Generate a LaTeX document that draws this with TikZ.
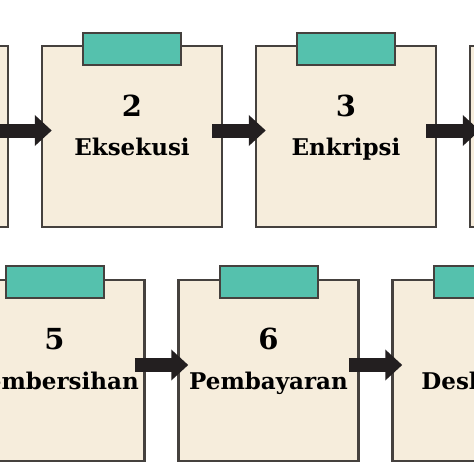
\documentclass[tikz,border=0pt]{standalone}
\usepackage{fontspec}
\newfontfamily\boxfont{DejaVu Serif}
\usetikzlibrary{arrows.meta}
\definecolor{boxfill}{HTML}{F6EDDC}
\definecolor{boxline}{HTML}{45413E}
\definecolor{tabfill}{HTML}{55C1AD}
\definecolor{arrowdark}{HTML}{231F20}
\begin{document}
\begin{tikzpicture}[x=1pt, y=-1pt,
    stepbox/.style={draw=boxline, line width=2.5pt, fill=boxfill,
      minimum width=180pt, minimum height=181pt, inner sep=0pt},
    tabbox/.style={draw=boxline, line width=2pt, fill=tabfill,
      minimum width=98pt, minimum height=32pt, inner sep=0pt},
    numtext/.style={font=\boxfont\bfseries\fontsize{29}{30}\selectfont,
      anchor=base, inner sep=0pt},
    steptext/.style={font=\boxfont\bfseries\fontsize{23}{24}\selectfont,
      anchor=base, inner sep=0pt},
    flow/.style={draw=arrowdark, line width=14pt,
      -{Triangle[width=30pt,length=17pt]}}]
      \useasboundingbox (0,0) rectangle (474,474);
      \clip (0,0) rectangle (474,474);
      % top row
      \node[stepbox] (b1) at (-82,136.5) {};
      \node[stepbox] (b2) at (132,136.5) {};
      \node[stepbox] (b3) at (346,136.5) {};
      \node[stepbox] (b4) at (560,136.5) {};
      \node[tabbox] (t2) at ([yshift=-4pt]b2.north) {};
      \node[tabbox] (t3) at ([yshift=-4pt]b3.north) {};
      \node[numtext] (n2) at ([yshift=-72pt]b2.north) {2};
      \node[numtext] (n3) at ([yshift=-72pt]b3.north) {3};
      \node[steptext] (l2) at ([yshift=-111pt]b2.north) {Eksekusi};
      \node[steptext] (l3) at ([yshift=-111pt]b3.north) {Enkripsi};
      % bottom row
      \node[stepbox] (b5) at (54.5,370.5) {};
      \node[stepbox] (b6) at (268.5,370.5) {};
      \node[stepbox] (b7) at (482.5,370.5) {};
      \node[tabbox] (t5) at ([yshift=-3.5pt]b5.north) {};
      \node[tabbox] (t6) at ([yshift=-3.5pt]b6.north) {};
      \node[tabbox] (t7) at ([yshift=-3.5pt]b7.north) {};
      \node[numtext] (n5) at ([yshift=-71pt]b5.north) {5};
      \node[numtext] (n6) at ([yshift=-71pt]b6.north) {6};
      \node[steptext] (l5) at ([yshift=-111pt]b5.north) {Pembersihan};
      \node[steptext] (l6) at ([yshift=-111pt]b6.north) {Pembayaran};
      \node[steptext] (l7) at ([yshift=-111pt]b7.north) {Deskripsi};
      % arrows
      \draw[flow] ([xshift=-11pt,yshift=6pt]b1.east) -- ([xshift=11pt,yshift=6pt]b2.west);
      \draw[flow] ([xshift=-11pt,yshift=6pt]b2.east) -- ([xshift=11pt,yshift=6pt]b3.west);
      \draw[flow] ([xshift=-11pt,yshift=6pt]b3.east) -- ([xshift=11pt,yshift=6pt]b4.west);
      \draw[flow] ([xshift=-11pt,yshift=5.5pt]b5.east) -- ([xshift=11pt,yshift=5.5pt]b6.west);
      \draw[flow] ([xshift=-11pt,yshift=5.5pt]b6.east) -- ([xshift=11pt,yshift=5.5pt]b7.west);
\end{tikzpicture}
\end{document}
